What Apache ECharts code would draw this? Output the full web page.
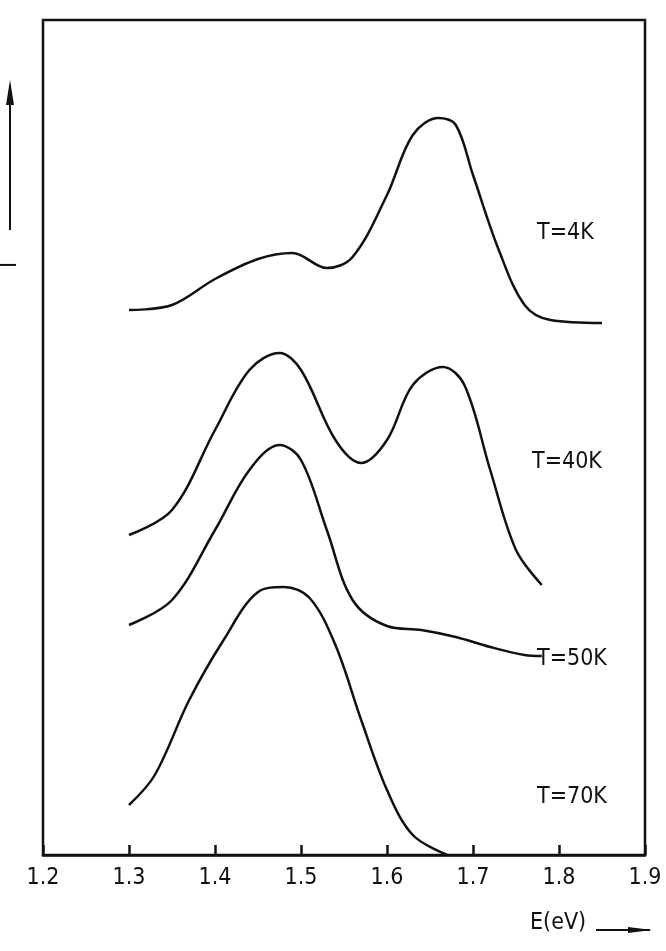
<!DOCTYPE html>
<html><head><meta charset="utf-8">
<script src="https://cdn.jsdelivr.net/npm/echarts@6/dist/echarts.min.js"></script>
<style>html,body{margin:0;background:#fff}#c{width:666px;height:951px}</style>
</head><body><div id="c"></div>
<script>
// intensity in arbitrary units (0 = axis, 835 = top of frame)
const xTicks = [1.2, 1.3, 1.4, 1.5, 1.6, 1.7, 1.8, 1.9];
const e4 = [1.3,1.35,1.4,1.45,1.49,1.53,1.56,1.6,1.63,1.66,1.68,1.7,1.73,1.76,1.79,1.85];
const i4 = [545,550,576,596,602,587,598,660,720,737,730,680,605,550,535,532];
const e40 = [1.3,1.35,1.4,1.44,1.475,1.5,1.54,1.57,1.6,1.63,1.665,1.69,1.72,1.75,1.78];
const i40 = [320,345,425,485,502,485,415,392,415,470,488,470,385,305,270];
const e50 = [1.3,1.35,1.4,1.44,1.475,1.5,1.53,1.56,1.6,1.64,1.68,1.72,1.76,1.78];
const i50 = [230,255,325,385,410,395,325,255,229,225,218,208,200,199];
const e70 = [1.3,1.33,1.37,1.41,1.45,1.48,1.51,1.54,1.57,1.6,1.63,1.67];
const i70 = [50,80,155,215,263,268,257,210,135,65,20,0];
const labels = ['T=4K', 'T=40K', 'T=50K', 'T=70K'];

const zip = (a, b) => a.map((v, i) => [v, b[i]]);
const sets = [[e4, i4], [e40, i40], [e50, i50], [e70, i70]];
const labelPos = [[537, 236], [532, 465], [537, 662], [537, 800]];
const fam = 'DejaVu Sans Condensed';
const txt = (t, l, tp) => ({type: 'text', left: l, top: tp,
  style: {text: t, font: '23px "DejaVu Sans Condensed"', fill: '#111'}});

const chart = echarts.init(document.getElementById('c'));
chart.setOption({
  animation: false,
  grid: {left: 43, right: 21, top: 20, bottom: 96, show: true, borderColor: '#111', borderWidth: 2.5},
  xAxis: {
    type: 'value', min: 1.2, max: 1.9, interval: 0.1,
    axisLine: {lineStyle: {color: '#111', width: 2.5}},
    axisTick: {inside: true, length: 10, lineStyle: {color: '#111', width: 2.5}},
    axisLabel: {color: '#111', fontSize: 23, fontFamily: fam, margin: 12,
      formatter: v => xTicks.find(t => Math.abs(t - v) < 1e-6).toFixed(1)},
    splitLine: {show: false}
  },
  yAxis: {type: 'value', min: 0, max: 835, show: false, splitLine: {show: false}},
  series: sets.map(s => ({
    type: 'line', smooth: 0.35, symbol: 'none',
    lineStyle: {color: '#111', width: 2.5},
    data: zip(s[0], s[1])
  })),
  graphic: [
    ...labels.map((t, i) => txt(t, labelPos[i][0], labelPos[i][1] - 14)),
    txt('E(eV)', 530, 912),
    {type: 'line', shape: {x1: 596, y1: 930, x2: 650, y2: 930}, style: {stroke: '#111', lineWidth: 2}},
    {type: 'polygon', shape: {points: [[628, 927], [652, 930], [628, 933]]}, style: {fill: '#111'}},
    {type: 'line', shape: {x1: 10, y1: 230, x2: 10, y2: 85}, style: {stroke: '#111', lineWidth: 2}},
    {type: 'polygon', shape: {points: [[6, 105], [10, 80], [14, 105]]}, style: {fill: '#111'}},
    {type: 'text', x: 10, y: 265, rotation: Math.PI / 2,
      style: {text: 'I', font: '23px "DejaVu Sans Condensed"', fill: '#111', align: 'center', verticalAlign: 'middle'}}
  ]
});
</script></body></html>
